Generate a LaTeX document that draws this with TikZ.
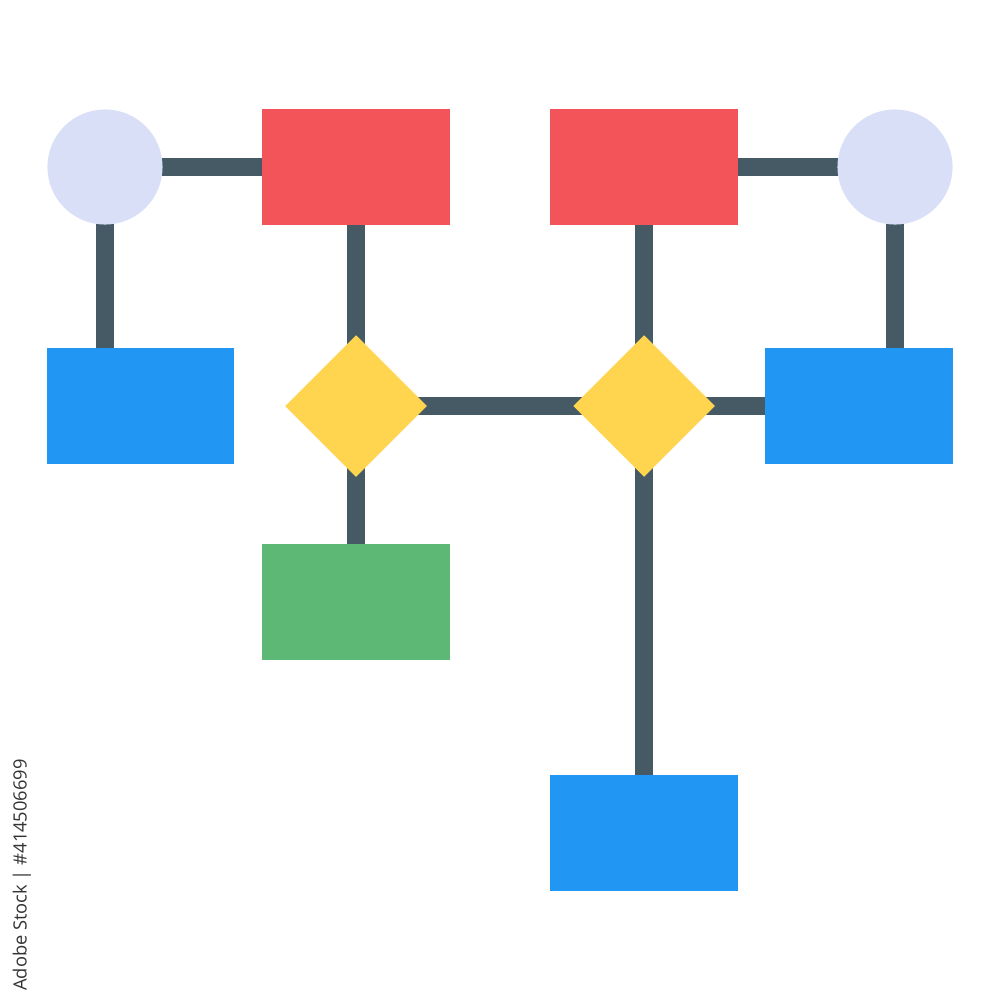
\documentclass[tikz,border=0pt]{standalone}
\usepackage{fontspec}
\newfontfamily\wmfont{Open Sans}
\usetikzlibrary{shapes.geometric,backgrounds}
\definecolor{linec}{HTML}{455A64}
\definecolor{redc}{HTML}{F3545A}
\definecolor{bluec}{HTML}{2196F3}
\definecolor{greenc}{HTML}{5CB874}
\definecolor{yellowc}{HTML}{FFD54F}
\definecolor{lavc}{HTML}{DADFF8}
\begin{document}
\begin{tikzpicture}[x=0.01cm,y=-0.01cm,
  box/.style={rectangle,inner sep=0pt,minimum width=1.87cm,minimum height=1.16cm,draw=none},
  dia/.style={diamond,inner sep=0pt,minimum width=1.42cm,minimum height=1.42cm,fill=yellowc,draw=none},
  circ/.style={circle,inner sep=0pt,minimum size=1.15cm,fill=lavc,draw=none},
  conn/.style={draw=linec,line width=0.18cm}]
\useasboundingbox (0,0) rectangle (1000,1000);
% nodes
\node[circ] (cl) at (105,167) {};
\node[circ] (cr) at (895,167) {};
\node[box,fill=redc] (rl) at (356,167) {};
\node[box,fill=redc] (rr) at (644,167) {};
\node[box,fill=bluec] (bl) at (140.5,406) {};
\node[box,fill=bluec] (br) at (859,406) {};
\node[box,fill=bluec] (bb) at (644,833) {};
\node[box,fill=greenc] (gr) at (356,602) {};
\node[dia] (dl) at (356,406) {};
\node[dia] (dr) at (644,406) {};
% connectors behind the nodes
\begin{scope}[on background layer]
\fill[white] (0,0) rectangle (1000,1000);
\draw[conn] (cl.center) -- (rl.center);
\draw[conn] (cl.center) -- (cl.center |- bl.center);
\draw[conn] (rl.center) -- (dl.center);
\draw[conn] (dl.center) -- (gr.center);
\draw[conn] (dl.center) -- (dr.center);
\draw[conn] (rr.center) -- (dr.center);
\draw[conn] (dr.center) -- (br.center);
\draw[conn] (rr.center) -- (cr.center);
\draw[conn] (cr.center) -- (cr.center |- br.center);
\draw[conn] (dr.center) -- (bb.center);
\end{scope}
\node[rotate=90,text=black!80,font=\wmfont\fontsize{5.2pt}{6pt}\selectfont,inner sep=0pt] (wm) at (22,875) {Adobe Stock | \#414506699};
\end{tikzpicture}
\end{document}
